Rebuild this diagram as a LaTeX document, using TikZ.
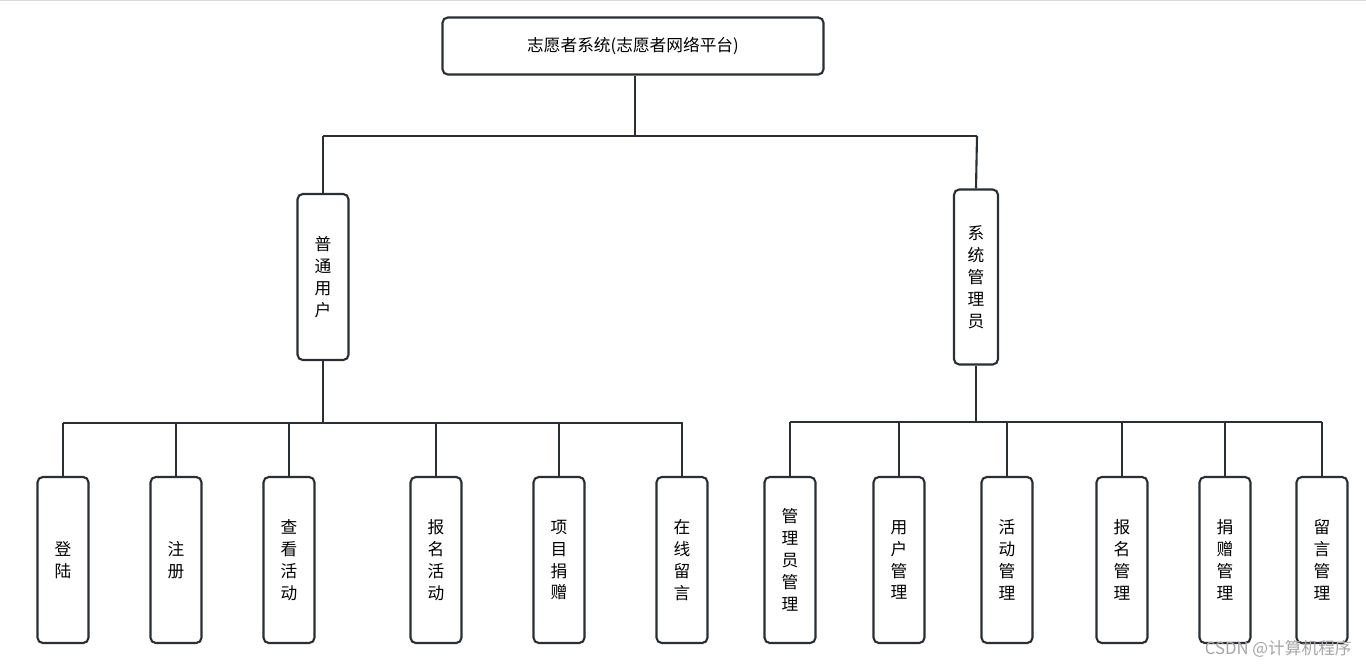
\documentclass[tikz,border=0pt]{standalone}
\usepackage{fontspec}
\setmainfont{Noto Sans CJK SC}
\begin{document}
\begin{tikzpicture}[x=0.02cm,y=-0.02cm,
  bx/.style={draw=ln,line width=1.2pt,rounded corners=3pt,fill=white,inner sep=0pt,font=\fontsize{9.5}{12.5}\selectfont},
  cn/.style={draw=ln,line width=1.2pt}]
\definecolor{ln}{HTML}{2B2F33}
\useasboundingbox (0,0) rectangle (1366,667);
\fill[white] (0,0) rectangle (1366,667);
\draw[gray!30] (0,0.5) -- (1366,0.5);
\node[bx,minimum width=381*0.02cm,minimum height=57*0.02cm] (top) at (633,46) {志愿者系统(志愿者网络平台)};
\node[bx,minimum width=51*0.02cm,minimum height=166*0.02cm,align=center] (u) at (323,277) {普\\通\\用\\户};
\node[bx,minimum width=44*0.02cm,minimum height=175*0.02cm,align=center] (a) at (976,277) {系\\统\\管\\理\\员};
\coordinate (tj) at (635,136);
\coordinate (tl) at (323,136);
\coordinate (tr) at (977,136);
\draw[cn] (top.south -| tj) -- (tj);
\draw[cn] (tl) -- (tr);
\draw[cn] (tl) -- (u.north);
\draw[cn] (tr) -- (a.north);
\coordinate (lb) at (323,423);
\coordinate (rb) at (976,422);
\draw[cn] (u.south) -- (lb);
\draw[cn] (a.south) -- (rb);
\draw[cn] (63,423) coordinate (l0) -- (683,423) coordinate (l1);
\draw[cn] (790,422) coordinate (r0) -- (1322,422) coordinate (r1);
\foreach \x/\t/\n in {63/{登\\陆}/b1,176/{注\\册}/b2,289/{查\\看\\活\\动}/b3,436/{报\\名\\活\\动}/b4,559/{项\\目\\捐\\赠}/b5,682/{在\\线\\留\\言}/b6}{
  \node[bx,minimum width=51*0.02cm,minimum height=166*0.02cm,align=center] (\n) at (\x,560) {\t};
  \coordinate (\n t) at (\x,423);
  \draw[cn] (\n t) -- (\n.north);
}
\foreach \x/\t/\n in {790/{管\\理\\员\\管\\理}/c1,899/{用\\户\\管\\理}/c2,1007/{活\\动\\管\\理}/c3,1122/{报\\名\\管\\理}/c4,1225/{捐\\赠\\管\\理}/c5,1322/{留\\言\\管\\理}/c6}{
  \node[bx,minimum width=51*0.02cm,minimum height=166*0.02cm,align=center] (\n) at (\x,560) {\t};
  \coordinate (\n t) at (\x,422);
  \draw[cn] (\n t) -- (\n.north);
}
\node[anchor=east,text=gray!70,font=\fontsize{9.5}{11}\selectfont,inner sep=0pt] (wm) at (1352,649) {CSDN @计算机程序};
\end{tikzpicture}
\end{document}
